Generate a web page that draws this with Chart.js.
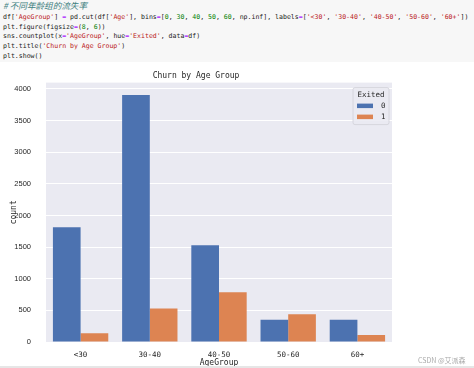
<!DOCTYPE html>
<html>
<head>
<meta charset="utf-8">
<script src="https://cdn.jsdelivr.net/npm/chart.js@4.4.1/dist/chart.umd.min.js"></script>
<style>
  html, body { margin:0; padding:0; background:#fff; }
  body { width:474px; height:368px; position:relative; overflow:hidden; }
  #code { position:absolute; left:0; top:0; width:474px; height:62px; background:#f7f7f7;
    font-family:'DejaVu Sans Mono', monospace; font-size:6.55px; line-height:9.8px; color:#222;
    white-space:pre; padding:1px 0 0 3px; box-sizing:border-box; }
  .c { color:#408080; font-style:italic; font-family:'Noto Sans CJK SC', sans-serif; font-size:8.6px; }
  .s { color:#ba2121; }
  .n { color:#008000; }
  .o { color:#aa22ff; }
  #wrap { position:absolute; left:0; top:62px; width:474px; height:306px; }
  #mark { position:absolute; left:418px; top:355px; font-family:'Noto Sans CJK SC', sans-serif; font-size:7px; color:#aaa; }
  #strip { position:absolute; left:0; top:366px; width:474px; height:2px; background:#e6e6e6; }
</style>
</head>
<body>
<div id="code"><span class="c"># 不同年龄组的流失率</span>
df[<span class="s">'AgeGroup'</span>] <span class="o">=</span> pd.cut(df[<span class="s">'Age'</span>], bins<span class="o">=</span>[<span class="n">0</span>, <span class="n">30</span>, <span class="n">40</span>, <span class="n">50</span>, <span class="n">60</span>, np.inf], labels<span class="o">=</span>[<span class="s">'&lt;30'</span>, <span class="s">'30-40'</span>, <span class="s">'40-50'</span>, <span class="s">'50-60'</span>, <span class="s">'60+'</span>])
plt.figure(figsize<span class="o">=</span>(<span class="n">8</span>, <span class="n">6</span>))
sns.countplot(x<span class="o">=</span><span class="s">'AgeGroup'</span>, hue<span class="o">=</span><span class="s">'Exited'</span>, data<span class="o">=</span>df)
plt.title(<span class="s">'Churn by Age Group'</span>)
plt.show()</div>
<div id="wrap"><canvas id="chart" width="474" height="306"></canvas></div>
<div id="mark">CSDN @艾派森</div>
<div id="strip"></div>
<script>
const C = { blue:'#4c72b0', orange:'#dd8452', bg:'#eaeaf2', grid:'#ffffff', text:'#262626' };
const MONO = "'DejaVu Sans Mono', monospace";

// ── DATA ──────────────────────────────────────────────
const ageGroups = ['<30', '30-40', '40-50', '50-60', '60+'];
const hueLabels = ['0', '1'];
const stayed    = [1815, 3905, 1530, 350, 350];
const exited    = [140, 530, 785, 440, 110];
const yTicks    = [0, 500, 1000, 1500, 2000, 2500, 3000, 3500, 4000];
const yMax      = 4100;

const plotBg = {
  id:'plotBg',
  beforeDraw(chart) {
    const { ctx, chartArea:a } = chart;
    ctx.save(); ctx.fillStyle = C.bg;
    ctx.fillRect(a.left, a.top, a.right - a.left, a.bottom - a.top);
    ctx.restore();
  }
};

const innerLegend = {
  id:'innerLegend',
  afterDatasetsDraw(chart) {
    const { ctx, chartArea:a } = chart;
    const w = 36, h = 37, x = a.right - w - 3, y = a.top + 5;
    ctx.save();
    ctx.fillStyle = 'rgba(234,234,242,0.85)';
    ctx.strokeStyle = '#d0d0d8'; ctx.lineWidth = 0.8;
    ctx.beginPath(); ctx.roundRect(x, y, w, h, 2); ctx.fill(); ctx.stroke();
    ctx.fillStyle = C.text; ctx.font = '7.5px ' + MONO;
    ctx.textAlign = 'center'; ctx.textBaseline = 'middle';
    ctx.fillText('Exited', x + w / 2, y + 7);
    chart.data.datasets.forEach((ds, i) => {
      const ry = y + 18 + i * 11;
      ctx.fillStyle = ds.backgroundColor;
      ctx.fillRect(x + 4, ry - 2, 16, 4.5);
      ctx.fillStyle = C.text; ctx.textAlign = 'left';
      ctx.fillText(ds.label, x + 28, ry);
    });
    ctx.restore();
  }
};

new Chart(document.getElementById('chart'), {
  type:'bar',
  data:{ labels:ageGroups, datasets:[
    { label:hueLabels[0], data:stayed, backgroundColor:C.blue },
    { label:hueLabels[1], data:exited, backgroundColor:C.orange }
  ]},
  options:{
    responsive:false, animation:false,
    layout:{ padding:{ left:0, right:82, top:0, bottom:0 } },
    datasets:{ bar:{ categoryPercentage:0.8, barPercentage:1.0 } },
    plugins:{
      legend:{ display:false }, tooltip:{ enabled:false },
      title:{ display:true, text:'Churn by Age Group', color:C.text,
        font:{ family:MONO, size:8, weight:'normal' }, padding:{ top:9, bottom:2 } }
    },
    scales:{
      x:{ grid:{ display:false }, border:{ display:false },
        ticks:{ color:C.text, font:{ size:7.5, family:MONO }, padding:1 },
        title:{ display:true, text:'AgeGroup', color:C.text, font:{ size:8, family:MONO }, padding:{ top:0, bottom:0 } },
        afterFit(s) { s.height = 26; }
      },
      y:{ min:0, max:yMax, grid:{ color:C.grid, lineWidth:1 }, border:{ display:false },
        ticks:{ color:C.text, font:{ size:7.5, family:"'Liberation Sans', sans-serif" }, padding:7,
          callback:v => String(v) },
        title:{ display:true, text:'count', color:C.text, font:{ size:8, family:MONO }, padding:{ top:9, bottom:0 } },
        afterBuildTicks(s) { s.ticks = yTicks.map(v => ({ value:v })); },
        afterFit(s) { s.width = 46; }
      }
    }
  },
  plugins:[plotBg, innerLegend]
});
</script>
</body>
</html>
